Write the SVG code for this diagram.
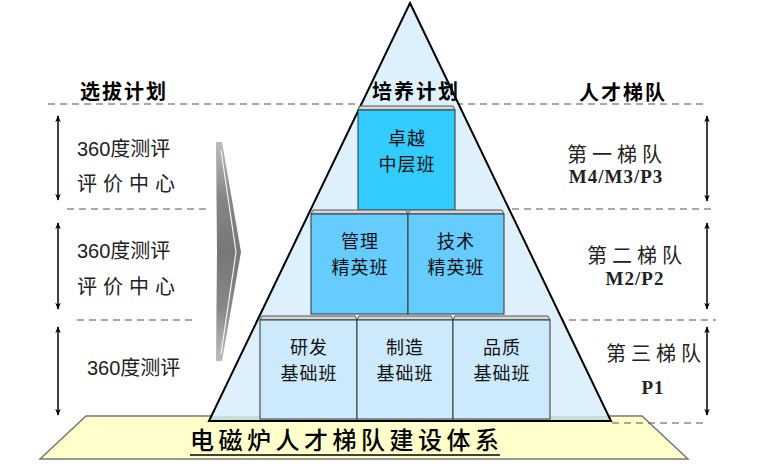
<svg xmlns="http://www.w3.org/2000/svg" width="760" height="464" viewBox="0 0 760 464">
<defs>
<style>
.dash{stroke:#555;stroke-width:1.2;stroke-dasharray:7 5;fill:none}
.arr{stroke:#000;stroke-width:1.5;fill:none;marker-start:url(#ah);marker-end:url(#ah)}
.hd{font-family:"Noto Sans CJK SC",sans-serif;font-weight:bold;font-size:20px;fill:#000;letter-spacing:2px}
.lt{font-family:"Liberation Sans","Noto Sans CJK SC",sans-serif;font-size:20px;fill:#222}
.rt{font-family:"Liberation Serif","Noto Sans CJK SC",serif;font-size:20px;fill:#222;letter-spacing:5px}
.rc{font-family:"Liberation Serif","Noto Sans CJK SC",serif;font-weight:bold;font-size:19px;fill:#222;text-anchor:middle;letter-spacing:1px}
.bx{stroke:#333;stroke-width:1}
.top{fill:#d6d6d6;stroke:#555;stroke-width:1}
.bt{font-family:"Noto Sans CJK SC",sans-serif;font-size:18px;fill:#111;text-anchor:middle;letter-spacing:1px}
</style>
<marker id="ah" viewBox="0 0 10 10" refX="9" refY="5" markerWidth="7" markerHeight="7" orient="auto-start-reverse" markerUnits="userSpaceOnUse">
<path d="M0,1 L10,5 L0,9 L3,5 Z" fill="#000"/>
</marker>
<linearGradient id="gg" x1="0" y1="0" x2="0" y2="1">
<stop offset="0" stop-color="#bdbdbd"/>
<stop offset="0.25" stop-color="#868686"/>
<stop offset="0.5" stop-color="#777777"/>
<stop offset="0.75" stop-color="#868686"/>
<stop offset="1" stop-color="#bdbdbd"/>
</linearGradient>
</defs>

<g id="guides">
<line class="dash" x1="48" y1="104" x2="705" y2="104"/>
<line class="dash" x1="67" y1="209" x2="208" y2="209"/>
<line class="dash" x1="500" y1="209" x2="712" y2="209"/>
<line class="dash" x1="77" y1="320" x2="196" y2="320"/>
<line class="dash" x1="545" y1="320" x2="716" y2="320"/>
</g>

<g id="chevron">
<polygon points="216,142 222,142 241,252 222,361 216,361 217,252" fill="url(#gg)"/>
<polyline points="221,150 236,252 221,354" fill="none" stroke="#f2f2f2" stroke-width="1.2"/>
</g>

<g id="base">
<polygon points="86,416 642,416 688,459 40,459" fill="#ffffcc" stroke="#777" stroke-width="1.5"/>
</g>

<g id="pyramid">
<polygon points="410,3 611,421 209,421" fill="#ddf0fb" stroke="none"/>
<polygon points="211,416 609,416 611,421 209,421" fill="#c8dfd9"/>
<polygon points="410,3 611,421 209,421" fill="none" stroke="#000" stroke-width="2"/>
</g>

<g id="box-top">
<path class="top" d="M358,110 L360,106 L453,106 L455,110 Z"/>
<rect class="bx" x="358" y="110" width="97" height="100" fill="#33ccff"/>
<text class="bt" x="407" y="145">卓越</text>
<text class="bt" x="407" y="171">中层班</text>
</g>

<g id="box-mgmt">
<path class="top" d="M311,214 L313,210 L406,210 L408,214 Z"/>
<rect class="bx" x="311" y="214" width="97" height="100" fill="#66ccff"/>
<text class="bt" x="360" y="248">管理</text>
<text class="bt" x="360" y="274">精英班</text>
</g>

<g id="box-tech">
<path class="top" d="M408,214 L410,210 L502,210 L504,214 Z"/>
<rect class="bx" x="408" y="214" width="96" height="100" fill="#66ccff"/>
<text class="bt" x="456" y="248">技术</text>
<text class="bt" x="456" y="274">精英班</text>
</g>

<g id="box-rd">
<path class="top" d="M260,320 L262,316 L355,316 L357,320 Z"/>
<rect class="bx" x="260" y="320" width="97" height="99" fill="#cdeafc"/>
<text class="bt" x="309" y="354">研发</text>
<text class="bt" x="309" y="380">基础班</text>
</g>

<g id="box-mfg">
<path class="top" d="M357,320 L359,316 L451,316 L453,320 Z"/>
<rect class="bx" x="357" y="320" width="96" height="99" fill="#cdeafc"/>
<text class="bt" x="405" y="354">制造</text>
<text class="bt" x="405" y="380">基础班</text>
</g>

<g id="box-qa">
<path class="top" d="M453,320 L455,316 L548,316 L550,320 Z"/>
<rect class="bx" x="453" y="320" width="97" height="99" fill="#cdeafc"/>
<text class="bt" x="502" y="354">品质</text>
<text class="bt" x="502" y="380">基础班</text>
</g>

<g id="connectors">
<line class="dash" x1="612" y1="423" x2="707" y2="423"/>
<line class="arr" x1="58" y1="116" x2="58" y2="200"/>
<line class="arr" x1="58" y1="223" x2="58" y2="309"/>
<line class="arr" x1="58" y1="327" x2="58" y2="415"/>
<line class="arr" x1="707" y1="116" x2="707" y2="201"/>
<line class="arr" x1="707" y1="223" x2="707" y2="309"/>
<line class="arr" x1="707" y1="327" x2="707" y2="415"/>
</g>

<g id="headers">
<text class="hd" x="80" y="99">选拔计划</text>
<text class="hd" x="372" y="99">培养计划</text>
<text class="hd" x="579" y="100">人才梯队</text>
</g>

<g id="left-labels">
<text class="lt" x="77" y="156">360度测评</text>
<text class="lt" x="77" y="191" letter-spacing="6">评价中心</text>
<text class="lt" x="77" y="258">360度测评</text>
<text class="lt" x="77" y="294" letter-spacing="6">评价中心</text>
<text class="lt" x="87" y="375">360度测评</text>
</g>

<g id="right-labels">
<text class="rt" x="567" y="162">第一梯队</text>
<text class="rc" x="616" y="183">M4/M3/P3</text>
<text class="rt" x="587" y="263">第二梯队</text>
<text class="rc" x="635" y="285">M2/P2</text>
<text class="rt" x="606" y="361">第三梯队</text>
<text class="rc" x="653" y="394">P1</text>
</g>

<g id="title">
<text x="190" y="449" font-family="Noto Sans CJK SC,sans-serif" font-size="24" font-weight="500" letter-spacing="4.5" fill="#000">电磁炉人才梯队建设体系</text>
<line x1="190" y1="455" x2="500" y2="455" stroke="#000" stroke-width="1.5"/>
</g>
</svg>
